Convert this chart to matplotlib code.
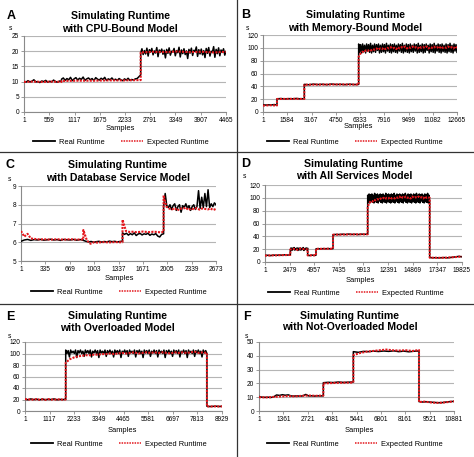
import numpy as np
import matplotlib
matplotlib.use("Agg")
import matplotlib.pyplot as plt
from matplotlib.lines import Line2D

plt.rcParams["font.family"] = ["Liberation Sans", "DejaVu Sans"]

W, H = 474, 457

# ---------------- data ----------------
# each series = step edges (sample numbers) + values per step
a_xticks = [1, 559, 1117, 1675, 2233, 2791, 3349, 3907, 4465]
a_yticks = [0, 5, 10, 15, 20, 25]
a_edges = [1, 830, 2580, 4465]
a_real = [
    [10.0, 9.8, 10.3, 9.9, 10.1, 10.6, 9.9, 10.0, 9.7, 10.2, 10.0, 10.4, 9.8, 10.1, 9.9, 10.5, 10.0, 9.8, 10.2, 10.0],
    [10.8, 11.2, 10.4, 11.0, 10.6, 11.4, 10.3, 10.9, 11.3, 10.5, 11.1, 10.7, 11.5, 10.4, 10.9, 11.2, 10.6, 11.0,
     10.3, 11.3, 10.8, 10.5, 11.1, 10.7, 11.4, 10.4, 10.9, 10.6, 11.2, 10.5, 10.8, 10.4, 11.0, 10.6, 10.3, 10.9,
     10.5, 11.1, 10.4, 10.7, 10.5, 10.9, 11.0, 11.6, 12.2],
    [19.5, 20.8, 18.9, 20.2, 19.1, 21.0, 18.4, 20.5, 19.7, 20.9, 18.8, 20.1, 19.4, 21.2, 18.2, 20.4, 19.6, 20.7,
     19.0, 20.3, 17.8, 20.6, 19.3, 21.1, 18.7, 20.0, 19.8, 20.9, 18.5, 20.2, 19.5, 21.3, 18.1, 20.4, 19.2, 20.8,
     18.9, 20.1, 17.6, 20.6, 19.4, 21.0, 18.6, 20.3, 19.9, 21.4, 18.3, 20.5, 19.1, 20.7, 18.8, 20.2, 17.9, 20.9,
     19.3, 21.2, 18.4, 20.0, 19.7, 21.5, 18.0, 20.6, 19.2, 21.1, 18.5, 20.4, 19.6, 20.8, 18.7, 19.9],
]
a_exp = [
    [9.9, 10.0, 9.9, 10.0, 9.9],
    [10.2, 10.3, 10.3, 10.4, 10.4, 10.5],
    [19.6, 19.8, 19.7, 19.9, 19.7, 19.8, 19.6, 19.8],
]

b_xticks = [1, 1584, 3167, 4750, 6333, 7916, 9499, 11082, 12665]
b_yticks = [0, 20, 40, 60, 80, 100, 120]
b_edges = [1, 914, 2698, 6245, 12665]
b_real = [
    [11.5, 10.8, 11.2, 11.0, 11.6, 10.9],
    [20.5, 21.0, 20.3, 20.8, 20.6, 21.1, 20.4, 20.9],
    [43.0, 42.5, 43.4, 42.8, 43.2, 42.6, 43.5, 42.9, 43.1, 42.7, 43.3, 42.8, 43.0],
    [106, 93, 105, 92, 106, 94, 104, 92, 106, 95, 105, 93, 107, 92, 104, 94, 106, 93, 105, 96, 106, 92, 104, 93,
     106, 94, 105, 92, 107, 95, 104, 93, 106, 92, 105, 94, 106, 93, 104, 92, 106, 95, 105, 93, 107, 92, 104, 94,
     106, 93, 105, 92, 106, 94, 104, 93, 106, 95, 105, 92, 107, 93, 104, 94, 106, 92, 105, 93, 106, 96, 104, 92,
     106, 94, 105, 93, 107, 92, 104, 95, 106, 93, 105, 92, 106, 94, 104, 93, 106, 92, 105, 94, 107, 93, 104, 92,
     106, 95, 105, 93],
]
b_exp = [
    [10.0, 10.5, 10.2],
    [20.3, 20.5, 20.4],
    [42.5, 42.8, 43.0, 42.7],
    [86, 91, 94, 93, 96, 95, 97, 96, 98, 97, 99, 97, 99, 98, 100, 98, 100, 99, 101, 99, 100, 98, 101, 99, 101,
     100, 102, 99, 101, 100, 102, 100, 101, 99, 102, 100, 101, 100, 102, 99, 101, 100, 102, 100, 101, 99, 102,
     100, 101, 100, 102, 100, 101, 99, 102, 100],
]

c_xticks = [1, 335, 669, 1003, 1337, 1671, 2005, 2339, 2673]
c_yticks = [5, 6, 7, 8, 9]
c_edges = [1, 855, 1392, 1955, 2673]
c_real = [
    [6.05, 6.12, 6.15, 6.1, 6.14, 6.12, 6.15, 6.11, 6.13, 6.16, 6.12, 6.14, 6.1, 6.15, 6.13, 6.12, 6.15, 6.11, 6.14, 6.12],
    [6.1, 6.05, 6.02, 6.04, 6.0, 6.03, 6.05, 6.01, 6.04, 6.02, 6.06, 6.03, 6.05, 6.02, 6.04, 6.06],
    [6.5, 6.42, 6.48, 6.38, 6.46, 6.4, 6.5, 6.36, 6.44, 6.47, 6.39, 6.45, 6.42, 6.48, 6.37, 6.44, 6.4, 6.46,
     6.33, 6.28, 6.42, 6.45],
    [7.9, 8.6, 7.95, 7.85, 8.0, 7.75, 7.95, 8.05, 7.7, 7.9, 8.0, 7.6, 7.95, 7.85, 8.05, 7.8, 7.95, 7.7, 7.9, 8.0,
     7.75, 7.9, 8.75, 7.8, 8.4, 7.85, 8.6, 7.9, 8.8, 7.85, 8.05, 7.9, 8.1, 8.0],
]
c_exp = [
    [6.6, 6.3, 6.45, 6.2, 6.18, 6.16, 6.15, 6.16, 6.15, 6.14, 6.15, 6.16, 6.15, 6.14, 6.15, 6.16, 6.15, 6.14, 6.15, 6.15],
    [6.65, 6.1, 5.92, 6.0, 5.98, 6.0, 6.01, 5.99, 6.0, 6.01, 6.0, 6.0],
    [7.2, 6.6, 6.55, 6.56, 6.54, 6.55, 6.57, 6.55, 6.54, 6.56, 6.55, 6.53, 6.55],
    [8.5, 7.9, 7.8, 7.75, 7.82, 7.7, 7.8, 7.78, 7.85, 7.72, 7.8, 7.76, 7.82, 7.74, 7.8, 7.78, 7.75, 7.8, 7.72, 7.78],
]

d_xticks = [1, 2479, 4957, 7435, 9913, 12391, 14869, 17347, 19825]
d_yticks = [0, 20, 40, 60, 80, 100, 120]
d_edges = [1, 2550, 4295, 5133, 6845, 10334, 16574, 19825]
d_real = [
    [10.2, 10.5, 10.0, 10.8, 10.3, 11.0, 10.6, 11.2, 10.8, 11.0],
    [19, 22, 18, 21.5, 19.5, 22.5, 18.5, 21, 20, 22, 18, 21.5, 19, 22, 18.5, 21, 19.5, 22.5, 18, 21, 20, 22, 19, 21.5],
    [10.5, 10.0, 10.8, 10.2, 10.6],
    [20.5, 20.8, 20.3, 20.9, 20.6, 21.0, 20.5, 20.8],
    [42.5, 43.0, 42.8, 43.3, 42.9, 43.5, 43.0, 43.2, 42.8, 43.4, 43.1, 43.6],
    [104, 93, 106, 92, 105, 95, 106, 93, 104, 92, 107, 94, 105, 93, 106, 92, 104, 95, 106, 93, 105, 92, 106, 94,
     104, 93, 107, 92, 105, 95, 106, 93, 104, 92, 106, 94, 105, 93, 107, 92, 104, 95, 106, 93, 105, 92, 106, 94,
     104, 93, 106, 92, 105, 95, 107, 93, 104, 92, 106, 94, 105, 93, 106, 92, 104, 95, 106, 93, 105, 92, 107, 94,
     104, 93, 106, 92, 105, 95, 106, 93, 104, 92, 106, 94, 105, 93, 107, 92, 104, 95],
    [7.0, 6.5, 6.8, 6.4, 6.6, 6.9, 6.5, 7.0, 7.5, 8.2, 8.8, 8.0],
]
d_exp = [
    [10.0, 10.5, 11.0],
    [19.5, 20.5, 19.0, 21.0, 20.0, 19.5],
    [10.3, 10.5],
    [20.5, 20.7],
    [42.5, 43.0, 43.2],
    [86, 92, 95, 94, 97, 96, 98, 97, 99, 98, 100, 98, 100, 99, 101, 99, 100, 99, 101, 100, 102, 99, 101, 100, 102,
     100, 101, 99, 102, 100, 101, 100, 102, 100, 101, 99, 102, 100, 101, 100],
    [6.8, 6.5, 6.7, 7.5, 8.5],
]

e_xticks = [1, 1117, 2233, 3349, 4465, 5581, 6697, 7813, 8929]
e_yticks = [0, 20, 40, 60, 80, 100, 120]
e_edges = [1, 1846, 8246, 8929]
e_real = [
    [20.5, 19.5, 21, 19.8, 20.6, 19.4, 20.8, 19.6, 20.4, 19.9, 21.0, 19.5, 20.2, 19.8, 20.6],
    [106, 100, 105, 94, 106, 101, 104, 100, 106, 93, 105, 101, 106, 100, 104, 95, 106, 101, 105, 100, 106, 94,
     104, 101, 106, 100, 105, 93, 106, 101, 104, 100, 106, 95, 105, 101, 106, 100, 104, 94, 106, 101, 105, 100,
     106, 93, 104, 101, 106, 100, 105, 95, 106, 101, 104, 100, 106, 94, 105, 101, 106, 100, 104, 93, 106, 101,
     105, 100, 106, 95, 104, 101, 106, 100, 105, 94, 106, 101, 104, 100, 106, 93, 105, 101, 106, 100, 104, 95,
     106, 101, 105, 100, 106, 94, 104, 101, 106, 100, 105, 93, 106, 101, 104, 100, 106, 95, 105, 101, 106, 100,
     104, 94, 106, 101, 105, 100],
    [8.2, 7.8, 8.0, 8.3, 7.9, 8.1],
]
e_exp = [
    [21, 19.5, 20.5, 19.3, 20.8, 19.6, 20.3, 19.4, 20.6, 19.8, 20.2, 19.5, 20.7, 19.6, 20.1],
    [84, 90, 93, 95, 96, 97, 97, 98, 98, 99, 99, 100, 99, 100, 101, 100, 101, 102, 100, 101, 102, 101, 102, 101,
     102, 101, 100, 102, 101, 102, 101, 102, 103, 101, 102, 101],
    [8.0, 7.8, 8.1, 7.9, 8.0],
]

f_xticks = [1, 1361, 2721, 4081, 5441, 6801, 8161, 9521, 10881]
f_yticks = [0, 10, 20, 30, 40, 50]
f_edges = [1, 3590, 5264, 8928, 10881]
f_real = [
    [10.5, 10.0, 9.9, 10.0, 9.8, 10.2, 11.6, 11.3, 11.8, 11.4, 11.7, 10.9, 10.8, 11.0, 10.7, 11.0, 12.0, 10.9,
     11.0, 10.8, 11.0, 10.9, 11.0],
    [20.5, 20.8, 20.6, 21.0, 20.7, 20.9, 21.0],
    [43, 42.5, 43.2, 43.0, 43.4, 43.1, 43.5, 43.2, 43.6, 43.0, 43.4, 42.9, 43.3, 43.5],
    [6.8, 6.5, 6.7, 6.4, 6.2, 6.0, 6.1, 6.5, 6.8, 7.0],
]
f_exp = [
    [10.0, 9.8, 10.2, 10.5, 10.8, 10.6, 11.0, 11.2, 11.0, 11.2],
    [20.0, 20.3, 20.5, 20.6],
    [40.5, 42, 43, 43.5, 44, 44.5, 44, 43.8, 44, 43.5, 44.2],
    [6.5, 6.8, 6.2, 5.9, 6.0, 6.5, 7.0],
]

titles = [
    ("A", "with CPU-Bound Model"),
    ("B", "with Memory-Bound Model"),
    ("C", "with Database Service Model"),
    ("D", "with All Services Model"),
    ("E", "with Overloaded Model"),
    ("F", "with Not-Overloaded Model"),
]

# ---------------- layout (pixels in the 474x457 image) ----------------
# axes box: left, right, top, bottom
boxes = [(24, 226, 36, 112), (263, 457, 35, 112),
         (21, 216, 186, 261), (265, 462, 185, 262),
         (25, 222, 342, 411), (259, 454, 342, 411)]
letter_pos = [(11, 16), (246, 15), (10, 165), (246, 164), (10, 317), (247, 317)]
title_pos = [(120, 16, 29), (355, 15, 28), (118, 165, 178),
             (354, 164, 176), (117, 316, 328), (350, 316, 327)]
s_pos = [(10, 29), (247, 29), (9, 179), (244, 176), (9, 336), (246, 336)]
samples_pos = [(120, 128), (358, 127), (119, 279), (360, 281), (122, 431), (359, 431)]
legend_pos = [(121, 142), (355, 142), (119, 292), (356, 293), (119, 444), (355, 444)]

panels = [
    (a_xticks, a_yticks, a_edges, a_real, a_exp),
    (b_xticks, b_yticks, b_edges, b_real, b_exp),
    (c_xticks, c_yticks, c_edges, c_real, c_exp),
    (d_xticks, d_yticks, d_edges, d_real, d_exp),
    (e_xticks, e_yticks, e_edges, e_real, e_exp),
    (f_xticks, f_yticks, f_edges, f_real, f_exp),
]

RED = "#e3161c"
GRID = "#b5b5b5"
AXC = "#8a8a8a"


def fx(x):
    return x / W


def fy(y):
    return 1 - y / H


def series(edges, segs):
    xs, ys = [], []
    for x0, x1, vals in zip(edges[:-1], edges[1:], segs):
        xs.append(np.linspace(x0, x1, len(vals)))
        ys.append(np.asarray(vals, dtype=float))
    return np.concatenate(xs), np.concatenate(ys)


fig = plt.figure(figsize=(W / 100, H / 100), dpi=100)

for i, (xticks, yticks, edges, real, exp) in enumerate(panels):
    l, r, t, b = boxes[i]
    ax = fig.add_axes([fx(l), fy(b), (r - l) / W, (b - t) / H])

    xr, yr = series(edges, real)
    xe, ye = series(edges, exp)
    ax.plot(xr, yr, color="black", lw=1.1, zorder=3)
    ax.plot(xe, ye, color=RED, lw=1.5, ls=(0, (1.0, 0.6)), zorder=4)

    ax.set_xlim(xticks[0], xticks[-1])
    ax.set_ylim(yticks[0], yticks[-1])
    ax.set_xticks(xticks)
    ax.set_yticks(yticks)
    ax.yaxis.grid(True, color=GRID, lw=0.8)
    ax.set_axisbelow(True)
    for side in ("top", "right"):
        ax.spines[side].set_visible(False)
    for side in ("left", "bottom"):
        ax.spines[side].set_color(AXC)
        ax.spines[side].set_linewidth(0.8)
    ax.tick_params(labelsize=4.7, length=2, width=0.6, color=AXC, pad=1.5)

    letter, sub = titles[i]
    lx, ly = letter_pos[i]
    fig.text(fx(lx), fy(ly), letter, fontsize=9, fontweight="bold", ha="center", va="center")
    tx, ty1, ty2 = title_pos[i]
    fig.text(fx(tx), fy(ty1), "Simulating Runtime", fontsize=7.6, fontweight="bold",
             ha="center", va="center")
    fig.text(fx(tx), fy(ty2), sub, fontsize=7.6, fontweight="bold", ha="center", va="center")
    sx, sy = s_pos[i]
    fig.text(fx(sx), fy(sy), "s", fontsize=4.8, ha="center", va="center")
    smx, smy = samples_pos[i]
    fig.text(fx(smx), fy(smy), "Samples", fontsize=5.4, ha="center", va="center")

    handles = [Line2D([], [], color="black", lw=1.3),
               Line2D([], [], color=RED, lw=1.1, ls=(0, (1.0, 0.7)))]
    lgx, lgy = legend_pos[i]
    ax.legend(handles, ["Real Runtime", "Expected Runtime"], loc="center",
              bbox_to_anchor=(fx(lgx), fy(lgy)), bbox_transform=fig.transFigure,
              ncol=2, frameon=False, fontsize=5.4, handlelength=2.9,
              handletextpad=0.6, columnspacing=2.1, borderpad=0)

# panel dividers
fig.add_artist(Line2D([fx(237), fx(237)], [0, 1], color="#333333", lw=0.9))
fig.add_artist(Line2D([0, 1], [fy(152), fy(152)], color="#333333", lw=0.9))
fig.add_artist(Line2D([0, 1], [fy(304), fy(304)], color="#333333", lw=0.9))

fig.savefig("out.png", dpi=100)
